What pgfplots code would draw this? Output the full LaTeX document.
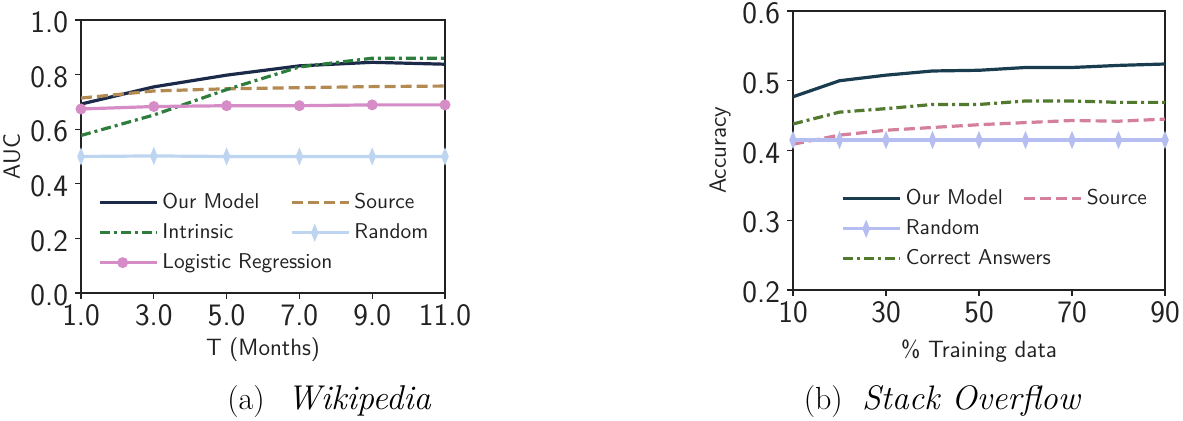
\documentclass[border=0pt]{standalone}
\usepackage{pgfplots}
\pgfplotsset{compat=1.18}
\definecolor{cOur}{HTML}{1B2A49}
\definecolor{cIntr}{HTML}{2E7D3C}
\definecolor{cSrc}{HTML}{B38A52}
\definecolor{cLR}{HTML}{D58CC7}
\definecolor{cRand}{HTML}{BDD5F0}
\definecolor{cOurB}{HTML}{1A3C4F}
\definecolor{cRandB}{HTML}{B6BDF0}
\definecolor{cCorr}{HTML}{527A2F}
\definecolor{cSrcB}{HTML}{D4809A}
\definecolor{txt}{HTML}{222222}
\tikzset{
  labfont/.style={font=\fontsize{11.8}{13}\selectfont\sffamily, text=txt},
  dsrc/.style={dash pattern=on 5.5pt off 2.5pt},
  ddot/.style={dash pattern=on 5pt off 2pt on 1.5pt off 2pt},
}
\begin{document}
\begin{tikzpicture}
\useasboundingbox (0,0) rectangle (591.5pt,210.5pt);
\pgfplotsset{
  myaxis/.style={
    scale only axis,
    axis line style={line width=0.6pt, color=txt},
    tick align=outside,
    tick pos=left,
    major tick length=3pt,
    every tick/.style={line width=0.6pt, color=txt},
    ticklabel style={font=\fontsize{15.6}{16}\selectfont\sffamily, text=txt},
    yticklabel style={yshift=-1.2pt},
    xticklabel style={yshift=1pt},
    /pgf/number format/assume math mode=true,
    legend columns=2,
    legend cell align=left,
    legend style={draw=none, fill=none, font=\fontsize{10.7}{12}\selectfont\sffamily, text=txt, row sep=2pt},
    legend image code/.code={\draw[mark repeat=2,mark phase=2] plot coordinates {(0cm,0cm)(0.4cm,0cm)(0.8cm,0cm)}; \path (0cm,0cm) -- (1.0cm,0cm);},
    every axis plot/.append style={line width=1.6pt},
  },
}
% (a) Wikipedia
\begin{axis}[myaxis, at={(40.5pt,64pt)}, anchor=south west,
  width=182pt, height=136.5pt,
  xmin=1, xmax=11, ymin=0, ymax=1,
  xtick={1,3,5,7,9,11}, ytick={0,0.2,0.4,0.6,0.8,1.0},
  xticklabel={\pgfmathprintnumber[fixed,fixed zerofill,precision=1]{\tick}},
  yticklabel={\pgfmathprintnumber[fixed,fixed zerofill,precision=1]{\tick}},
  xlabel={T (Months)}, ylabel={AUC},
  every axis x label/.style={at={(axis description cs:0.5,-0.209)}, anchor=center, labfont},
  every axis y label/.style={at={(axis description cs:-0.19,0.5)}, rotate=90, anchor=center, labfont},
  legend style={at={(0.03,0.395)}, anchor=north west,
    /tikz/every even column/.append style={column sep=13.5pt}},
]
\addplot[cOur, no marks] coordinates {(1,0.692)(3,0.755)(5,0.798)(7,0.832)(9,0.845)(11,0.838)};
\addlegendentry{Our Model}
\addplot[cSrc, dsrc, no marks] coordinates {(1,0.714)(3,0.740)(5,0.748)(7,0.752)(9,0.756)(11,0.758)};
\addlegendentry{Source}
\addplot[cIntr, ddot, no marks] coordinates {(1,0.577)(3,0.652)(5,0.745)(7,0.828)(9,0.860)(11,0.860)};
\addlegendentry{Intrinsic}
\addplot[cRand, mark=diamond*, mark size=2.5pt, mark options={solid, xscale=0.55}] coordinates {(1,0.500)(3,0.502)(5,0.500)(7,0.500)(9,0.500)(11,0.500)};
\addlegendentry{Random}
\addplot[cLR, mark=*, mark size=1.9pt, mark options={solid}] coordinates {(1,0.674)(3,0.683)(5,0.686)(7,0.686)(9,0.689)(11,0.689)};
\addlegendentry{\rlap{Logistic Regression}}
\end{axis}
\node[font=\fontsize{16}{18}\selectfont, text=black, anchor=base west, inner sep=0pt] at (113.5pt,5.7pt) {(a)\hspace{0.7em}{\fontsize{17.2}{18}\selectfont\itshape Wikipedia}};
% (b) Stack Overflow
\begin{axis}[myaxis, at={(396.5pt,65.5pt)}, anchor=south west,
  width=186pt, height=139.5pt,
  xmin=10, xmax=90, ymin=0.2, ymax=0.6,
  xtick={10,30,50,70,90}, ytick={0.2,0.3,0.4,0.5,0.6},
  yticklabel={\pgfmathprintnumber[fixed,fixed zerofill,precision=1]{\tick}},
  xlabel={\% Training data}, ylabel={Accuracy},
  every axis x label/.style={at={(axis description cs:0.5,-0.219)}, anchor=center, labfont},
  every axis y label/.style={at={(axis description cs:-0.196,0.5)}, rotate=90, anchor=center, labfont},
  legend style={at={(0.114,0.39)}, anchor=north west,
    /tikz/every even column/.append style={column sep=8pt}},
]
\addplot[cOurB, no marks] coordinates {(10,0.477)(20,0.500)(30,0.508)(40,0.514)(50,0.515)(60,0.519)(70,0.519)(80,0.522)(90,0.524)};
\addlegendentry{Our Model}
\addplot[cSrcB, dsrc, no marks] coordinates {(10,0.409)(20,0.422)(30,0.429)(40,0.433)(50,0.437)(60,0.440)(70,0.443)(80,0.442)(90,0.445)};
\addlegendentry{Source}
\addplot[cRandB, mark=diamond*, mark size=2.5pt, mark options={solid, xscale=0.55}] coordinates {(10,0.415)(20,0.415)(30,0.415)(40,0.415)(50,0.415)(60,0.415)(70,0.415)(80,0.415)(90,0.415)};
\addlegendentry{Random}
\addlegendimage{empty legend}
\addlegendentry{}
\addplot[cCorr, ddot, no marks] coordinates {(10,0.438)(20,0.455)(30,0.460)(40,0.466)(50,0.466)(60,0.471)(70,0.471)(80,0.469)(90,0.469)};
\addlegendentry{\rlap{Correct Answers}}
\end{axis}
\node[font=\fontsize{16}{18}\selectfont, text=black, anchor=base west, inner sep=0pt] at (401.7pt,5.5pt) {(b)\hspace{0.6em}{\fontsize{17}{18}\selectfont\itshape Stack Overflow}};
\end{tikzpicture}
\end{document}
